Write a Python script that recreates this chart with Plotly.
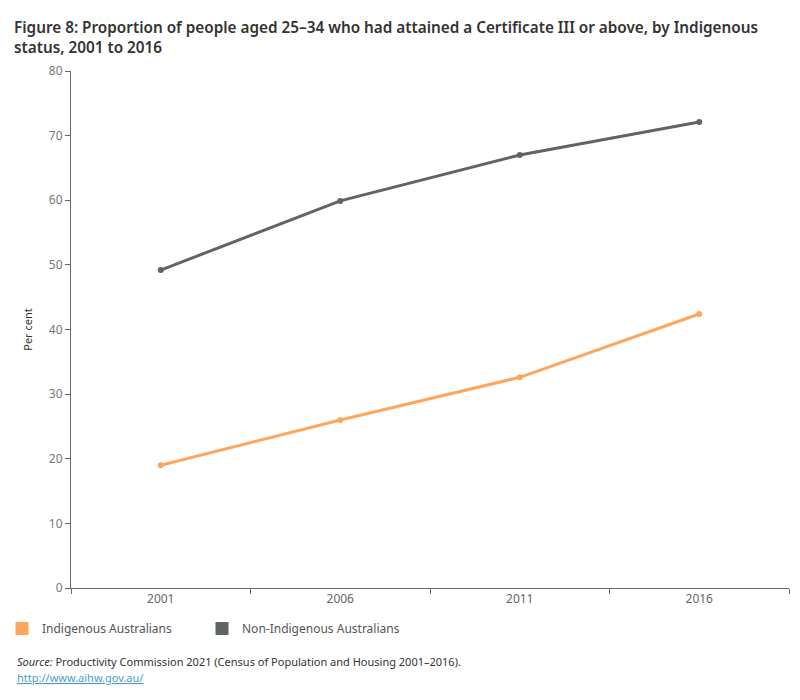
import plotly.graph_objects as go

years = ["2001", "2006", "2011", "2016"]
indigenous = [19.0, 26.0, 32.6, 42.4]
non_indigenous = [49.2, 59.9, 67.0, 72.1]
y_ticks = [0, 10, 20, 30, 40, 50, 60, 70, 80]

ORANGE = "#FFA65E"
GREY = "#5F6466"
FONT = "Noto Sans"

fig = go.Figure()
fig.add_trace(go.Scatter(x=years, y=indigenous, mode="lines+markers",
                         line=dict(color=ORANGE, width=3), marker=dict(size=6, color=ORANGE),
                         showlegend=False, name="Indigenous Australians"))
fig.add_trace(go.Scatter(x=years, y=non_indigenous, mode="lines+markers",
                         line=dict(color=GREY, width=3), marker=dict(size=6, color=GREY),
                         showlegend=False, name="Non-Indigenous Australians"))
# legend entries
fig.add_trace(go.Scatter(x=[None], y=[None], mode="markers", name="Indigenous Australians",
                         marker=dict(symbol="square", size=13, color=ORANGE)))
fig.add_trace(go.Scatter(x=[None], y=[None], mode="markers", name="Non-Indigenous Australians",
                         marker=dict(symbol="square", size=13, color=GREY)))

PLOT_H = 700 - 71 - 112

def py(pixel_y):
    return (700 - 112 - pixel_y) / PLOT_H

def px(pixel_x):
    return (pixel_x - 71) / 718

fig.update_layout(
    width=800, height=700,
    margin=dict(l=71, r=11, t=71, b=112, autoexpand=False),
    paper_bgcolor="white", plot_bgcolor="white",
    font=dict(family=FONT, color="#555555", size=12),
    showlegend=True,
    legend=dict(orientation="h", x=px(2), xanchor="left", y=py(614), yanchor="top",
                font=dict(size=12, color="#555555"), entrywidth=155, entrywidthmode="pixels",
                itemclick=False, itemdoubleclick=False),
)
fig.add_annotation(xref="paper", yref="paper", x=px(12), y=py(15), xanchor="left", yanchor="top",
                   align="left", showarrow=False,
                   text="Figure 8: Proportion of people aged 25–34 who had attained a Certificate III or above, by Indigenous<br>status, 2001 to 2016",
                   font=dict(family=FONT, size=15.3, color="#333333", weight=600))
fig.update_xaxes(type="category", categoryorder="array", categoryarray=years,
                 showline=True, linecolor="#666666", linewidth=1,
                 ticks="outside", tickson="boundaries", ticklen=5, tickcolor="#666666",
                 showgrid=False, zeroline=False,
                 tickfont=dict(size=12, color="#666666"), range=[-0.5, 3.5])
fig.update_yaxes(range=[0, 80], tickvals=y_ticks, showline=True, linecolor="#666666", linewidth=1,
                 ticks="outside", ticklen=5, tickcolor="#666666", showgrid=False, zeroline=False,
                 tickfont=dict(size=12, color="#777777"),
                 title=dict(text="Per cent", font=dict(size=11, color="#333333"), standoff=14))

fig.add_annotation(xref="paper", yref="paper", x=px(15), y=py(652), xanchor="left", yanchor="top",
                   text="<i>Source:</i> Productivity Commission 2021 (Census of Population and Housing 2001–2016).",
                   showarrow=False, font=dict(size=11, color="#333333"))
fig.add_annotation(xref="paper", yref="paper", x=px(15), y=py(668), xanchor="left", yanchor="top",
                   text="<u>http://www.aihw.gov.au/</u>",
                   showarrow=False, font=dict(size=11, color="#4A9CCF"))

fig.write_html("out.html")
